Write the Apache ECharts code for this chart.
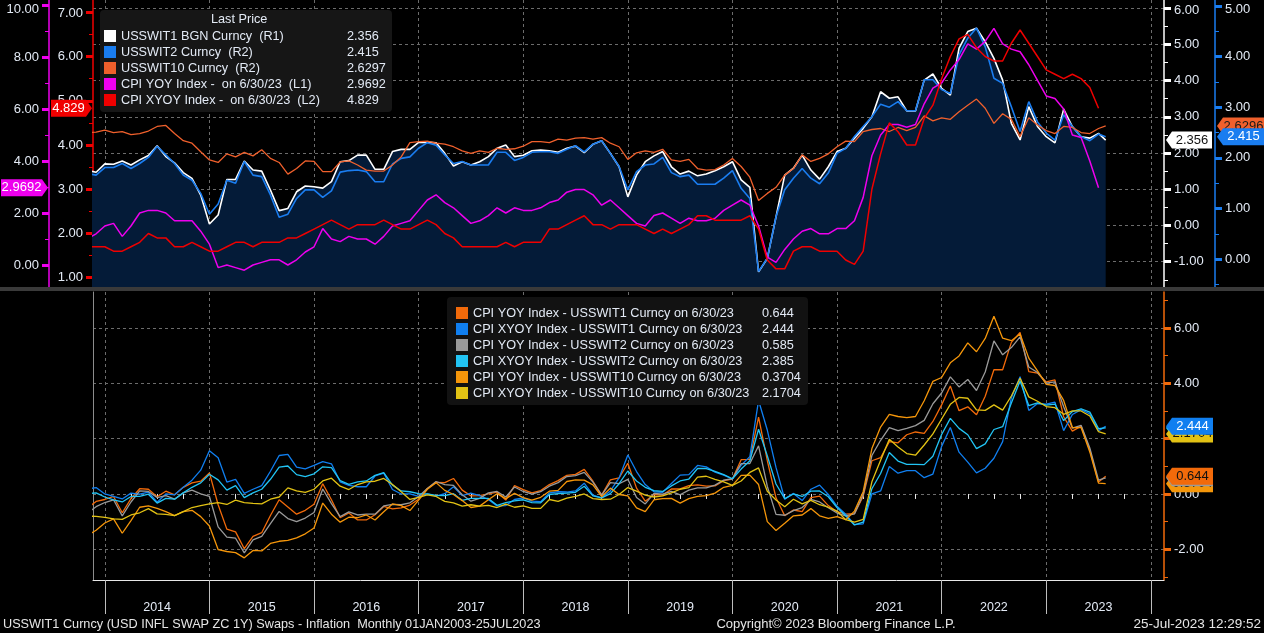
<!DOCTYPE html>
<html>
<head>
<meta charset="utf-8">
<title>USSWIT1 Curncy - Inflation Swaps vs CPI</title>
<script src="https://cdn.jsdelivr.net/npm/echarts@6/dist/echarts.min.js"></script>
<style>
html,body{margin:0;padding:0;background:#000;overflow:hidden;}
#chart{width:1264px;height:633px;}
</style>
</head>
<body>
<div id="chart"></div>
<script>
// ================= DATA =================
// monthly observations (month-end), first month = Oct 2013, CPI last = Jun 2023
const startYear = 2013, startMonth = 10;
const swapLastDate = '2023-07-25';

const cpiYoy = [1.0,1.2,1.5,
 1.6,1.1,1.5,2.0,2.1,2.1,2.0,1.7,1.7,1.7,1.3,0.8,
 -0.1,0.0,-0.1,-0.2,0.0,0.1,0.2,0.2,0.0,0.2,0.5,0.7,
 1.4,1.0,0.9,1.1,1.0,1.0,0.8,1.1,1.5,1.6,1.7,2.1,
 2.5,2.7,2.4,2.2,1.9,1.6,1.7,1.9,2.2,2.0,2.2,2.1,
 2.1,2.2,2.4,2.5,2.8,2.9,2.9,2.7,2.3,2.5,2.2,1.9,
 1.6,1.5,1.9,2.0,1.8,1.6,1.8,1.7,1.7,1.8,2.1,2.3,
 2.5,2.3,1.5,0.3,0.1,0.6,1.0,1.3,1.4,1.2,1.2,1.4,
 1.4,1.7,2.6,4.2,5.0,5.4,5.4,5.3,5.4,6.2,6.8,7.0,
 7.5,7.9,8.5,8.3,8.6,9.1,8.5,8.3,8.2,7.7,7.1,6.5,
 6.4,6.0,5.0,4.9,4.0,2.9692];

const cpiXyoy = [1.7,1.7,1.7,
 1.6,1.6,1.7,1.8,2.0,1.9,1.9,1.7,1.7,1.8,1.7,1.6,
 1.6,1.7,1.8,1.8,1.7,1.8,1.8,1.8,1.9,1.9,2.0,2.1,
 2.2,2.3,2.2,2.1,2.2,2.2,2.2,2.3,2.2,2.1,2.1,2.2,
 2.3,2.2,2.0,1.9,1.7,1.7,1.7,1.7,1.7,1.8,1.7,1.8,
 1.8,1.8,2.1,2.1,2.2,2.3,2.4,2.2,2.2,2.1,2.2,2.2,
 2.2,2.1,2.0,2.1,2.0,2.1,2.2,2.4,2.4,2.3,2.3,2.3,
 2.3,2.4,2.1,1.4,1.2,1.2,1.6,1.7,1.7,1.6,1.6,1.6,
 1.4,1.3,1.6,3.0,3.8,4.5,4.3,4.0,4.0,4.6,4.9,5.5,
 6.0,6.4,6.5,6.2,6.0,5.9,5.9,6.3,6.6,6.3,6.0,5.7,
 5.6,5.5,5.6,5.5,5.3,4.829];

// swaps: same months plus the last date (25 Jul 2023)
const usswit1 = [1.52,1.47,1.70,
 1.69,1.78,1.67,1.81,1.93,2.20,1.90,1.73,1.46,1.30,0.84,0.04,
 0.29,1.27,1.27,1.78,1.53,1.50,0.98,0.41,0.47,0.93,1.09,1.07,
 1.03,1.21,1.76,1.79,1.94,1.94,1.55,1.55,2.04,2.10,2.10,2.29,
 2.30,2.28,1.99,1.64,1.76,1.67,1.76,1.90,2.13,2.22,1.90,1.94,
 2.06,2.08,2.06,2.02,2.13,2.19,2.01,2.24,2.34,1.99,1.62,0.79,
 1.39,1.76,1.92,2.04,1.62,1.42,1.50,1.37,1.42,1.51,1.62,1.76,
 1.26,1.05,-1.28,-0.91,0.24,1.39,1.58,1.94,1.53,1.28,1.62,2.04,
 2.13,2.41,2.68,3.00,3.69,3.51,3.55,3.16,3.16,4.01,4.18,3.78,
 3.60,4.89,5.35,5.44,5.07,4.61,4.01,2.82,2.36,3.28,2.73,2.45,
 2.28,3.21,2.73,2.45,2.41,2.54,2.356];

const usswit2 = [1.69,1.66,1.81,
 1.81,1.89,1.79,1.89,2.01,2.23,2.06,1.89,1.66,1.56,1.30,0.89,
 1.09,1.56,1.50,1.93,1.66,1.63,1.27,0.83,0.89,1.20,1.37,1.37,
 1.22,1.35,1.72,1.75,1.76,1.73,1.53,1.53,1.88,1.99,2.02,2.19,
 2.30,2.25,2.06,1.89,1.93,1.86,1.86,1.86,2.11,2.11,1.95,2.01,
 2.11,2.12,2.12,2.09,2.17,2.24,2.12,2.27,2.34,2.09,1.83,1.37,
 1.73,1.86,1.88,2.01,1.71,1.63,1.66,1.48,1.48,1.48,1.60,1.75,
 1.40,1.20,-0.24,0.02,0.84,1.37,1.60,1.79,1.60,1.49,1.70,2.09,
 2.19,2.42,2.62,2.81,3.06,3.00,3.11,2.93,2.93,3.54,3.54,3.35,
 3.27,4.03,4.36,4.56,4.19,3.57,3.47,3.01,2.52,3.11,2.71,2.49,
 2.35,2.85,2.62,2.42,2.34,2.47,2.415];

const usswit10 = [2.50,2.51,2.55,
 2.50,2.52,2.46,2.48,2.53,2.62,2.64,2.48,2.34,2.29,2.12,1.96,
 1.91,2.08,2.02,2.11,2.04,2.16,1.99,1.91,1.68,1.79,1.94,1.93,
 1.73,1.73,1.92,1.94,1.86,1.76,1.74,1.74,1.86,2.02,2.30,2.32,
 2.33,2.29,2.27,2.22,2.14,2.09,2.14,2.11,2.19,2.17,2.18,2.23,
 2.32,2.32,2.30,2.37,2.35,2.39,2.40,2.37,2.40,2.29,2.22,1.97,
 2.10,2.14,2.11,2.17,1.96,1.93,1.97,1.79,1.76,1.77,1.86,1.99,
 1.83,1.62,1.16,1.30,1.42,1.66,1.79,2.06,1.93,1.99,2.08,2.22,
 2.33,2.32,2.52,2.56,2.58,2.52,2.60,2.54,2.60,2.83,2.73,2.79,
 2.76,2.91,3.04,3.16,2.98,2.68,2.87,2.76,2.42,2.79,2.65,2.54,
 2.48,2.62,2.60,2.50,2.48,2.58,2.6297];

// lower panel spreads (same dates as swaps)
const yoyLessSwit1 = [-0.52,-0.27,-0.20,
 -0.09,-0.68,-0.17,0.19,0.17,-0.10,0.10,-0.03,0.24,0.40,0.46,0.76,
 -0.39,-1.27,-1.37,-1.98,-1.53,-1.40,-0.78,-0.21,-0.47,-0.73,-0.59,-0.37,
 0.37,-0.21,-0.86,-0.69,-0.94,-0.94,-0.75,-0.45,-0.54,-0.50,-0.40,-0.19,
 0.20,0.42,0.41,0.56,0.14,-0.07,-0.06,0.00,0.07,-0.22,0.30,0.16,
 0.04,0.12,0.34,0.48,0.67,0.71,0.89,0.46,-0.04,0.51,0.58,1.11,
 0.21,-0.26,-0.02,-0.04,0.18,0.18,0.30,0.33,0.28,0.29,0.48,0.54,
 1.24,1.25,2.78,1.21,-0.14,-0.79,-0.58,-0.64,-0.13,-0.08,-0.42,-0.64,
 -0.73,-0.71,-0.08,1.20,1.31,1.89,1.85,2.14,2.24,2.19,2.62,3.22,
 3.90,3.01,3.15,2.86,3.53,4.49,4.49,5.48,5.84,4.42,4.37,4.05,
 4.12,2.79,2.27,2.45,1.59,0.43,0.644];

const xyoyLessSwit1 = [0.18,0.23,0.00,
 -0.09,-0.18,0.03,-0.01,0.07,-0.30,0.00,-0.03,0.24,0.50,0.86,1.56,
 1.31,0.43,0.53,0.02,0.17,0.30,0.82,1.39,1.43,0.97,0.91,1.03,
 1.17,1.09,0.44,0.31,0.26,0.26,0.65,0.75,0.16,0.00,0.00,-0.09,
 0.00,-0.08,0.01,0.26,-0.06,0.03,-0.06,-0.20,-0.43,-0.42,-0.20,-0.14,
 -0.26,-0.28,0.04,0.08,0.07,0.11,0.39,-0.04,-0.14,0.11,0.58,1.41,
 0.81,0.34,0.08,0.06,0.38,0.68,0.70,1.03,0.98,0.79,0.68,0.54,
 1.04,1.35,3.38,2.31,0.96,-0.19,0.02,-0.24,0.17,0.32,-0.02,-0.44,
 -0.73,-1.11,-1.08,0.00,0.11,0.99,0.75,0.84,0.84,0.59,0.72,1.72,
 2.40,1.51,1.15,0.76,0.93,1.29,1.89,3.48,4.24,3.02,3.27,3.25,
 3.32,2.29,2.87,3.05,2.89,2.29,2.444];

const yoyLessSwit2 = [-0.69,-0.46,-0.31,
 -0.21,-0.79,-0.29,0.11,0.09,-0.13,-0.06,-0.19,0.04,0.14,0.00,-0.09,
 -1.19,-1.56,-1.60,-2.13,-1.66,-1.53,-1.07,-0.63,-0.89,-1.00,-0.87,-0.67,
 0.18,-0.35,-0.82,-0.65,-0.76,-0.73,-0.73,-0.43,-0.38,-0.39,-0.32,-0.09,
 0.20,0.45,0.34,0.31,-0.03,-0.26,-0.16,0.04,0.09,-0.11,0.25,0.09,
 -0.01,0.08,0.28,0.41,0.63,0.66,0.78,0.43,-0.04,0.41,0.37,0.53,
 -0.13,-0.36,0.02,-0.01,0.09,-0.03,0.14,0.22,0.22,0.32,0.50,0.55,
 1.10,1.10,1.74,0.28,-0.74,-0.77,-0.60,-0.49,-0.20,-0.29,-0.50,-0.69,
 -0.79,-0.72,-0.02,1.39,1.94,2.40,2.29,2.37,2.47,2.66,3.26,3.65,
 4.23,3.87,4.14,3.74,4.41,5.53,5.03,5.29,5.68,4.59,4.39,4.01,
 4.05,3.15,2.38,2.48,1.66,0.50,0.585];

const xyoyLessSwit2 = [0.01,0.04,-0.11,
 -0.21,-0.29,-0.09,-0.09,-0.01,-0.33,-0.16,-0.19,0.04,0.24,0.40,0.71,
 0.51,0.14,0.30,-0.13,0.04,0.17,0.53,0.97,1.01,0.70,0.63,0.73,
 0.98,0.95,0.48,0.35,0.44,0.47,0.67,0.77,0.32,0.11,0.08,0.01,
 0.00,-0.05,-0.06,0.01,-0.23,-0.16,-0.16,-0.16,-0.41,-0.31,-0.25,-0.21,
 -0.31,-0.32,-0.02,0.01,0.03,0.06,0.28,-0.07,-0.14,0.01,0.37,0.83,
 0.47,0.24,0.12,0.09,0.29,0.47,0.54,0.92,0.92,0.82,0.70,0.55,
 0.90,1.20,2.34,1.38,0.36,-0.17,0.00,-0.09,0.10,0.11,-0.10,-0.49,
 -0.79,-1.12,-1.02,0.19,0.74,1.50,1.19,1.07,1.07,1.06,1.36,2.15,
 2.73,2.37,2.14,1.64,1.81,2.33,2.43,3.29,4.08,3.19,3.29,3.21,
 3.25,2.65,2.98,3.08,2.96,2.36,2.385];

const yoyLessSwit10 = [-1.50,-1.31,-1.05,
 -0.90,-1.42,-0.96,-0.48,-0.43,-0.52,-0.64,-0.78,-0.64,-0.59,-0.82,-1.16,
 -2.01,-2.08,-2.12,-2.31,-2.04,-2.06,-1.79,-1.71,-1.68,-1.59,-1.44,-1.23,
 -0.33,-0.73,-1.02,-0.84,-0.86,-0.76,-0.94,-0.64,-0.36,-0.42,-0.60,-0.22,
 0.17,0.41,0.13,-0.02,-0.24,-0.49,-0.44,-0.21,0.01,-0.17,0.02,-0.13,
 -0.22,-0.12,0.10,0.13,0.45,0.51,0.50,0.33,-0.10,0.21,-0.02,-0.07,
 -0.50,-0.64,-0.21,-0.17,-0.16,-0.33,-0.17,-0.09,-0.06,0.03,0.24,0.31,
 0.67,0.68,0.34,-1.00,-1.32,-1.06,-0.79,-0.76,-0.53,-0.79,-0.88,-0.82,
 -0.93,-0.62,0.08,1.64,2.42,2.88,2.80,2.76,2.80,3.37,4.07,4.21,
 4.74,4.99,5.46,5.14,5.62,6.42,5.63,5.54,5.78,4.91,4.45,3.96,
 3.92,3.38,2.40,2.40,1.52,0.39,0.3704];

const xyoyLessSwit10 = [-0.80,-0.81,-0.85,
 -0.90,-0.92,-0.76,-0.68,-0.53,-0.72,-0.74,-0.78,-0.64,-0.49,-0.42,-0.36,
 -0.31,-0.38,-0.22,-0.31,-0.34,-0.36,-0.19,-0.11,0.22,0.11,0.06,0.17,
 0.47,0.57,0.28,0.16,0.34,0.44,0.46,0.56,0.34,0.08,-0.20,-0.12,
 -0.03,-0.09,-0.27,-0.32,-0.44,-0.39,-0.44,-0.41,-0.49,-0.37,-0.48,-0.43,
 -0.52,-0.52,-0.20,-0.27,-0.15,-0.09,0.00,-0.17,-0.20,-0.19,-0.02,0.23,
 0.10,-0.04,-0.11,-0.07,0.04,0.17,0.23,0.61,0.64,0.53,0.44,0.31,
 0.47,0.78,0.94,0.10,-0.22,-0.46,-0.19,-0.36,-0.23,-0.39,-0.48,-0.62,
 -0.93,-1.02,-0.92,0.44,1.22,1.98,1.70,1.46,1.40,1.77,2.17,2.71,
 3.24,3.49,3.46,3.04,3.02,3.22,3.03,3.54,4.18,3.51,3.35,3.16,
 3.12,2.88,3.00,3.00,2.82,2.25,2.1704];

const yearTicks = [2014,2015,2016,2017,2018,2019,2020,2021,2022,2023,2024];
const yearLabels = ['2014','2015','2016','2017','2018','2019','2020','2021','2022','2023'];

const topNames = ['USSWIT1 BGN Curncy  (R1)','USSWIT2 Curncy  (R2)','USSWIT10 Curncy  (R2)',
  'CPI YOY Index -  on 6/30/23  (L1)','CPI XYOY Index -  on 6/30/23  (L2)'];
const topLast = ['2.356','2.415','2.6297','2.9692','4.829'];
const bottomNames = ['CPI YOY Index - USSWIT1 Curncy on 6/30/23','CPI XYOY Index - USSWIT1 Curncy on 6/30/23',
  'CPI YOY Index - USSWIT2 Curncy on 6/30/23','CPI XYOY Index - USSWIT2 Curncy on 6/30/23',
  'CPI YOY Index - USSWIT10 Curncy on 6/30/23','CPI XYOY Index - USSWIT10 Curncy on 6/30/23'];
const bottomLast = ['0.644','2.444','0.585','2.385','0.3704','2.1704'];

// ================= HELPERS =================
const FONT = "'Liberation Sans', Arial, sans-serif";
const LBL = '#e3eaf5';
const C = {
  white:'#ffffff', blue:'#1a7df0', orange:'#f0602c', magenta:'#ee00ee', red:'#f00000',
  bOrange:'#f26a0a', bBlue:'#107ff0', bGrey:'#9a9a9a', bCyan:'#22c4f4', bAmber:'#f5960a', bYellow:'#e2c214'
};

// month-end positions expressed in decimal years
const cpiX = cpiYoy.map((_, i) => {
  const mm = startMonth - 1 + i;
  return startYear + Math.floor(mm / 12) + ((mm % 12) + 1) / 12;
});
const lp = swapLastDate.split('-').map(Number);
const swapX = cpiX.concat([lp[0] + (lp[1] - 1) / 12 + lp[2] / 365]);
const pairs = (xs, ys) => ys.map((v, i) => [xs[i], v]);

const X_MIN = 2013.887, X_MAX = 2024.126;
const quarterTicks = [];
for (let y = 2013; y <= 2024; y++) [0.25, 0.5, 0.75].forEach(q => { const v = y + q; if (v > X_MIN && v < X_MAX) quarterTicks.push(v); });

function yAx(o) {
  const top = o.ticks[o.ticks.length - 1];
  return {
    type: 'value', gridIndex: o.grid, position: o.pos, offset: o.offset || 0,
    min: o.min, max: o.max, minInterval: o.step, maxInterval: o.step,
    axisLine: { show: true, onZero: false, lineStyle: { color: o.color, width: 1.5 } },
    axisTick: { show: true, customValues: o.ticks, length: 7, lineStyle: { color: o.color, width: 3 } },
    minorTick: { show: true, splitNumber: 2, length: 4, lineStyle: { color: o.color, width: 1 } },
    axisLabel: { show: true, customValues: o.ticks, margin: 10,
      formatter: v => (o.topShift && v === top) ? '{t|' + v.toFixed(2) + '}' : v.toFixed(2),
      rich: { t: { padding: [o.topShift || 0, 0, 0, 0], color: LBL, fontSize: 13, fontFamily: FONT } },
      color: LBL, fontSize: 13, fontFamily: FONT },
    splitLine: { show: !!o.split, lineStyle: { color: '#6c6c6c', type: [3, 3], width: 1 } }
  };
}

function lineSeries(name, xi, yi, xs, ys, color, width, extra) {
  return Object.assign({
    type: 'line', name: name, xAxisIndex: xi, yAxisIndex: yi, data: pairs(xs, ys),
    symbol: 'none', showSymbol: false, smooth: false,
    lineStyle: { color: color, width: width }, itemStyle: { color: color }
  }, extra || {});
}

function tagSeries(o) {
  return {
    type: 'custom', xAxisIndex: o.xi, yAxisIndex: o.yi, clip: false, silent: true, z: o.z,
    data: [[X_MIN, o.value]],
    renderItem: function (params, api) {
      const cs = params.coordSys;
      const py = api.coord([api.value(0), api.value(1)])[1];
      const h = 17, w = o.w, tip = 6;
      let pts, tx;
      if (o.side === 'right') {
        const ax = cs.x + cs.width + (o.offset || 0) + 2;
        pts = [[ax, py], [ax + tip, py - h / 2], [ax + w, py - h / 2], [ax + w, py + h / 2], [ax + tip, py + h / 2]];
        tx = ax + tip + (w - tip) / 2;
      } else {
        const ax = cs.x - (o.offset || 0) - 1;
        pts = [[ax, py], [ax - tip, py - h / 2], [ax - w, py - h / 2], [ax - w, py + h / 2], [ax - tip, py + h / 2]];
        tx = ax - tip - (w - tip) / 2;
      }
      return { type: 'group', children: [
        { type: 'polygon', shape: { points: pts }, style: { fill: o.bg } },
        { type: 'text', style: { text: o.text, x: tx, y: py, align: 'center', verticalAlign: 'middle',
            fill: o.fg, font: '13px ' + FONT } }
      ] };
    }
  };
}

// ================= CHART =================
const chart = echarts.init(document.getElementById('chart'), null, { renderer: 'canvas' });

const xBase = { type: 'value', min: X_MIN, max: X_MAX, minInterval: 1, maxInterval: 1 };
const dash = { color: '#6c6c6c', type: [3, 3], width: 1 };

const option = {
  backgroundColor: '#000000',
  animation: false,
  grid: [
    { left: 93, right: 100, top: 0, height: 287, containLabel: false },
    { left: 93, right: 100, top: 292, height: 288, containLabel: false }
  ],
  xAxis: [
    Object.assign({}, xBase, { gridIndex: 0, position: 'bottom',
      axisLine: { show: false }, axisTick: { show: false, customValues: yearTicks }, axisLabel: { show: false },
      splitLine: { show: true, lineStyle: dash } }),
    Object.assign({}, xBase, { gridIndex: 1, position: 'bottom',
      axisLine: { show: true, onZero: false, lineStyle: { color: '#e8e8e8', width: 1 } },
      axisTick: { show: true, customValues: yearTicks, length: 34, lineStyle: { color: '#bdbdbd', width: 1 } },
      axisLabel: { show: true, customValues: yearTicks.slice(0, -1).map(y => y + 0.5),
        formatter: v => yearLabels[Math.floor(v) - 2014], margin: 21, color: LBL, fontSize: 12.5, fontFamily: FONT },
      splitLine: { show: true, lineStyle: dash } }),
    Object.assign({}, xBase, { gridIndex: 1, position: 'bottom',
      axisLine: { show: false }, axisTick: { show: true, customValues: quarterTicks, length: 5, lineStyle: { color: '#e8e8e8', width: 1 } },
      axisLabel: { show: false }, splitLine: { show: false } })
  ],
  yAxis: [
    yAx({ grid: 0, pos: 'left', offset: 44, min: -0.846, max: 10.19, step: 2, ticks: [0, 2, 4, 6, 8, 10], color: C.magenta, topShift: 9 }),
    yAx({ grid: 0, pos: 'left', offset: 0, min: 0.79, max: 7.278, step: 1, ticks: [1, 2, 3, 4, 5, 6, 7], color: C.red, topShift: 2 }),
    yAx({ grid: 0, pos: 'right', offset: 0, min: -1.697, max: 6.221, step: 1, ticks: [-1, 0, 1, 2, 3, 4, 5, 6], color: C.white, split: true, topShift: 4 }),
    yAx({ grid: 0, pos: 'right', offset: 51, min: -0.546, max: 5.114, step: 1, ticks: [0, 1, 2, 3, 4, 5], color: C.blue, topShift: 8 }),
    yAx({ grid: 1, pos: 'right', offset: 0, min: -3.11, max: 7.30, step: 2, ticks: [-2, 0, 2, 4, 6], color: C.bOrange, split: true }),
    { type: 'value', gridIndex: 1, position: 'left', min: -3.11, max: 7.30,
      axisLine: { show: true, onZero: false, lineStyle: { color: '#8c8c8c', width: 1 } },
      axisTick: { show: false }, axisLabel: { show: false }, splitLine: { show: false } }
  ],
  legend: [
    { data: topNames, orient: 'vertical', left: 100, top: 10, padding: [18, 5, 4, 4],
      backgroundColor: '#161616', borderRadius: 4, itemWidth: 12, itemHeight: 12, itemGap: 0, icon: 'rect',
      selectedMode: false,
      textStyle: { color: LBL, fontSize: 12.7, fontFamily: FONT, lineHeight: 16,
        rich: { n: { width: 226, color: LBL, fontSize: 12.7, fontFamily: FONT, lineHeight: 16 },
                v: { width: 40, color: LBL, fontSize: 12.7, fontFamily: FONT, lineHeight: 16 } } },
      formatter: name => '{n|' + name + '}{v|' + topLast[topNames.indexOf(name)] + '}' },
    { data: bottomNames, orient: 'vertical', left: 447, top: 297, padding: [8, 6, 4, 9],
      backgroundColor: '#121212', borderRadius: 4, itemWidth: 12, itemHeight: 12, itemGap: 0, icon: 'rect',
      selectedMode: false,
      textStyle: { color: LBL, fontSize: 12.7, fontFamily: FONT, lineHeight: 16,
        rich: { n: { width: 289, color: LBL, fontSize: 12.7, fontFamily: FONT, lineHeight: 16 },
                v: { width: 40, color: LBL, fontSize: 12.7, fontFamily: FONT, lineHeight: 16 } } },
      formatter: name => '{n|' + name + '}{v|' + bottomLast[bottomNames.indexOf(name)] + '}' }
  ],
  graphic: [
    { type: 'text', z: 100, left: 245 - 34, top: 13, style: { text: 'Last Price', fill: LBL, font: '12.7px ' + FONT } },
    { type: 'rect', z: 100, shape: { x: 0, y: 287, width: 1264, height: 4 }, style: { fill: '#3a3a3a' } },
    { type: 'text', z: 100, x: 3, y: 624, style: { text: 'USSWIT1 Curncy (USD INFL SWAP ZC 1Y) Swaps - Inflation  Monthly 01JAN2003-25JUL2023', fill: '#e6e6e6', font: '12.7px ' + FONT, align: 'left', verticalAlign: 'middle' } },
    { type: 'text', z: 100, x: 836, y: 624, style: { text: 'Copyright\u00A9 2023 Bloomberg Finance L.P.', fill: '#e6e6e6', font: '13px ' + FONT, align: 'center', verticalAlign: 'middle' } },
    { type: 'text', z: 100, x: 1261, y: 624, style: { text: '25-Jul-2023 12:29:52', fill: '#e6e6e6', font: '13.5px ' + FONT, align: 'right', verticalAlign: 'middle' } }
  ],
  series: [
    lineSeries(topNames[0], 0, 2, swapX, usswit1, C.white, 1.6,
      { areaStyle: { color: '#041b38', opacity: 1, origin: 'start' }, z: 1 }),
    lineSeries(topNames[1], 0, 3, swapX, usswit2, C.blue, 1.6, { z: 2 }),
    lineSeries(topNames[2], 0, 3, swapX, usswit10, C.orange, 1.3, { z: 2 }),
    lineSeries(topNames[3], 0, 0, cpiX, cpiYoy, C.magenta, 1.5, { z: 3 }),
    lineSeries(topNames[4], 0, 1, cpiX, cpiXyoy, C.red, 1.5, { z: 3 }),

    lineSeries(bottomNames[0], 1, 4, swapX, yoyLessSwit1, C.bOrange, 1.3),
    lineSeries(bottomNames[1], 1, 4, swapX, xyoyLessSwit1, C.bBlue, 1.3),
    lineSeries(bottomNames[2], 1, 4, swapX, yoyLessSwit2, C.bGrey, 1.3),
    lineSeries(bottomNames[3], 1, 4, swapX, xyoyLessSwit2, C.bCyan, 1.3),
    lineSeries(bottomNames[4], 1, 4, swapX, yoyLessSwit10, C.bAmber, 1.3),
    lineSeries(bottomNames[5], 1, 4, swapX, xyoyLessSwit10, C.bYellow, 1.3),

    // value tags on the axes
    tagSeries({ xi: 0, yi: 0, side: 'left', offset: 44, w: 47, value: cpiYoy[cpiYoy.length - 1], text: topLast[3], bg: C.magenta, fg: '#ffffff', z: 20 }),
    tagSeries({ xi: 0, yi: 1, side: 'left', offset: 0, w: 41, value: cpiXyoy[cpiXyoy.length - 1], text: topLast[4], bg: C.red, fg: '#ffffff', z: 20 }),
    tagSeries({ xi: 0, yi: 3, side: 'right', offset: 51, w: 47, value: 2.6296, text: '2.6296', bg: C.orange, fg: '#1a1a1a', z: 20 }),
    tagSeries({ xi: 0, yi: 3, side: 'right', offset: 51, w: 47, value: usswit2[usswit2.length - 1], text: topLast[1], bg: C.blue, fg: '#ffffff', z: 21 }),
    tagSeries({ xi: 0, yi: 2, side: 'right', offset: 0, w: 46, value: usswit1[usswit1.length - 1], text: topLast[0], bg: '#ffffff', fg: '#111111', z: 21 }),

    tagSeries({ xi: 1, yi: 4, side: 'right', offset: 0, w: 47, value: +bottomLast[3], text: bottomLast[3], bg: C.bCyan, fg: '#111111', z: 20 }),
    tagSeries({ xi: 1, yi: 4, side: 'right', offset: 0, w: 47, value: +bottomLast[5], text: bottomLast[5], bg: C.bYellow, fg: '#111111', z: 20 }),
    tagSeries({ xi: 1, yi: 4, side: 'right', offset: 0, w: 47, value: +bottomLast[1], text: bottomLast[1], bg: C.bBlue, fg: '#ffffff', z: 21 }),
    tagSeries({ xi: 1, yi: 4, side: 'right', offset: 0, w: 47, value: +bottomLast[4], text: bottomLast[4], bg: C.bAmber, fg: '#111111', z: 20 }),
    tagSeries({ xi: 1, yi: 4, side: 'right', offset: 0, w: 47, value: +bottomLast[2], text: bottomLast[2], bg: C.bGrey, fg: '#111111', z: 20 }),
    tagSeries({ xi: 1, yi: 4, side: 'right', offset: 0, w: 47, value: +bottomLast[0], text: bottomLast[0], bg: C.bOrange, fg: '#111111', z: 21 })
  ]
};
chart.setOption(option);
</script>
</body>
</html>
